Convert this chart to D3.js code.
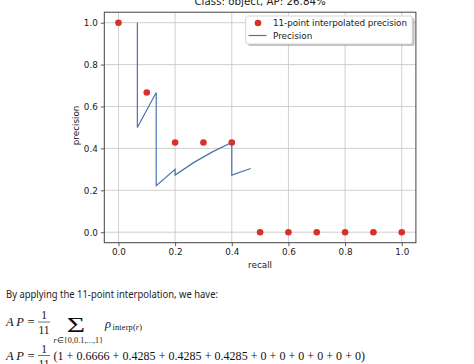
<!DOCTYPE html>
<html><head><meta charset="utf-8">
<script src="https://cdn.jsdelivr.net/npm/d3@7"></script>
<style>html,body{margin:0;padding:0;background:#fff;}svg{display:block;}</style>
</head><body>
<script>
// Data
const recall = [0.0667,0.0667,0.1333,0.1333,0.1333,0.1333,0.1333,0.1333,0.1333,0.2,0.2,0.2667,0.3333,0.4,0.4,0.4,0.4,0.4,0.4,0.4,0.4,0.4,0.4667];
const precision = [1,0.5,0.6667,0.5,0.4,0.3333,0.2857,0.25,0.2222,0.3,0.2727,0.3333,0.3846,0.4286,0.4,0.375,0.3529,0.3333,0.3158,0.3,0.2857,0.2727,0.3043];
const interpRecall = [0,0.1,0.2,0.3,0.4,0.5,0.6,0.7,0.8,0.9,1.0];
const interpPrecision = [1,0.6666,0.4285,0.4285,0.4285,0,0,0,0,0,0];
const xTicks = [0,0.2,0.4,0.6,0.8,1.0];
const yTicks = [0,0.2,0.4,0.6,0.8,1.0];
const titleText = "Class: object, AP: 26.84%";
const legendLabels = ["11-point interpolated precision","Precision"];
const sumTerms = ["1","0.6666","0.4285","0.4285","0.4285","0","0","0","0","0","0"];

const W=474,H=364;
const svg=d3.select("body").append("svg").attr("width",W).attr("height",H);
const L=104.3,R=415.9,T=12.2,B=242.7;
const x=d3.scaleLinear().domain([-0.05,1.05]).range([L,R]);
const y=d3.scaleLinear().domain([-0.05,1.05]).range([B,T]);
const tickFont="DejaVu Sans";

// grid
const g=svg.append("g");
g.selectAll(".gx").data(xTicks).enter().append("line")
 .attr("x1",d=>x(d)).attr("x2",d=>x(d)).attr("y1",T).attr("y2",B)
 .attr("stroke","#c4c4c4").attr("stroke-width",0.8);
g.selectAll(".gy").data(yTicks).enter().append("line")
 .attr("y1",d=>y(d)).attr("y2",d=>y(d)).attr("x1",L).attr("x2",R)
 .attr("stroke","#c4c4c4").attr("stroke-width",0.8);

// axes
const xAxis=d3.axisBottom(x).tickValues(xTicks).tickFormat(d3.format(".1f")).tickSize(3.5).tickPadding(3);
const yAxis=d3.axisLeft(y).tickValues(yTicks).tickFormat(d3.format(".1f")).tickSize(3.5).tickPadding(3);
const gx=svg.append("g").attr("transform",`translate(0,${B})`).call(xAxis);
const gy=svg.append("g").attr("transform",`translate(${L},0)`).call(yAxis);
[gx,gy].forEach(a=>{
  a.select(".domain").remove();
  a.selectAll("line").attr("stroke","#333").attr("stroke-width",0.8);
  a.selectAll("text").attr("font-family",tickFont).attr("font-size",8.8).attr("fill","#1a1a1a");
});

// line
const line=d3.line().x((d,i)=>x(recall[i])).y(d=>y(d));
svg.append("path").datum(precision).attr("d",line).attr("fill","none")
 .attr("stroke","#4c72b0").attr("stroke-width",1.2);

// interpolated points
svg.selectAll(".pt").data(interpPrecision).enter().append("circle")
 .attr("cx",(d,i)=>x(interpRecall[i])).attr("cy",d=>y(d)).attr("r",3.3)
 .attr("fill","#d9302a");

// spines
svg.append("rect").attr("x",L).attr("y",T).attr("width",R-L).attr("height",B-T)
 .attr("fill","none").attr("stroke","#444").attr("stroke-width",1);

// title and labels
svg.append("text").attr("x",(L+R)/2).attr("y",5).attr("text-anchor","middle")
 .attr("font-family",tickFont).attr("font-size",10.3).attr("fill","#1a1a1a").text(titleText);
svg.append("text").attr("x",(L+R)/2).attr("y",268).attr("text-anchor","middle")
 .attr("font-family",tickFont).attr("font-size",8.8).attr("fill","#1a1a1a").text("recall");
svg.append("text").attr("transform",`translate(79,${(T+B)/2-2}) rotate(-90)`).attr("text-anchor","middle")
 .attr("font-family",tickFont).attr("font-size",8.8).attr("fill","#1a1a1a").text("precision");

// legend
const lg=svg.append("g");
lg.append("rect").attr("x",248).attr("y",18).attr("width",166.6).attr("height",28).attr("rx",2)
 .attr("fill","#888").attr("opacity",0.5);
lg.append("rect").attr("x",245.7).attr("y",16).attr("width",166.6).attr("height",28).attr("rx",2)
 .attr("fill","#fff").attr("stroke","#cccccc").attr("stroke-width",0.8);
lg.append("circle").attr("cx",258).attr("cy",23).attr("r",3.3).attr("fill","#d9302a");
lg.append("line").attr("x1",248.5).attr("x2",266.5).attr("y1",35.5).attr("y2",35.5)
 .attr("stroke","#4c72b0").attr("stroke-width",1.2);
lg.selectAll(".lt").data(legendLabels).enter().append("text")
 .attr("x",273).attr("y",(d,i)=>26.3+i*12.3)
 .attr("font-family",tickFont).attr("font-size",8.8).attr("fill","#1a1a1a")
 .attr("textLength",(d,i)=>i===0?134:null).text(d=>d);

// body text
svg.append("text").attr("x",6).attr("y",297.5).attr("font-family","Noto Sans").attr("font-size",10.3)
 .attr("fill","#222").attr("textLength",212).attr("lengthAdjust","spacingAndGlyphs")
 .text("By applying the 11-point interpolation, we have:");

// formulas
const mf="Liberation Serif";
function apEq(base){
  svg.append("text").attr("x",6).attr("y",base).attr("font-family",mf).attr("font-style","italic")
   .attr("font-size",12.5).attr("fill","#111").attr("textLength",18).text("AP");
  svg.append("text").attr("x",27.5).attr("y",base).attr("font-family",mf)
   .attr("font-size",12.5).attr("fill","#111").text("=");
  svg.append("text").attr("x",44).attr("y",base-7).attr("text-anchor","middle").attr("font-family",mf)
   .attr("font-size",11.5).attr("fill","#111").text("1");
  svg.append("line").attr("x1",38).attr("x2",50).attr("y1",base-4).attr("y2",base-4)
   .attr("stroke","#111").attr("stroke-width",0.6);
  svg.append("text").attr("x",44).attr("y",base+8).attr("text-anchor","middle").attr("font-family",mf)
   .attr("font-size",11.5).attr("fill","#111").text("11");
}
apEq(326);
svg.append("text").attr("transform","translate(76,332) scale(1.5,1)").attr("text-anchor","middle")
 .attr("font-family",mf).attr("font-size",21).attr("fill","#111").text("Σ");
const sub=svg.append("text").attr("x",53.5).attr("y",342.5).attr("font-family",mf).attr("font-size",8)
 .attr("fill","#111").attr("textLength",49.5);
sub.append("tspan").attr("font-style","italic").text("r");
sub.append("tspan").text("∈{0,0.1,...,1}");
svg.append("text").attr("x",105).attr("y",328).attr("font-family",mf).attr("font-style","italic")
 .attr("font-size",12.5).attr("fill","#111").text("ρ");
const sub2=svg.append("text").attr("x",112.5).attr("y",330).attr("font-family",mf).attr("font-size",8.3)
 .attr("fill","#111").attr("textLength",29.5);
sub2.append("tspan").text("interp(");
sub2.append("tspan").attr("font-style","italic").text("r");
sub2.append("tspan").text(")");

apEq(359.5);
svg.append("text").attr("x",53.5).attr("y",359.5).attr("font-family",mf).attr("font-size",12)
 .attr("fill","#111").attr("textLength",311.5)
 .text("(" + sumTerms.join(" + ") + ")");
</script>
</body></html>
